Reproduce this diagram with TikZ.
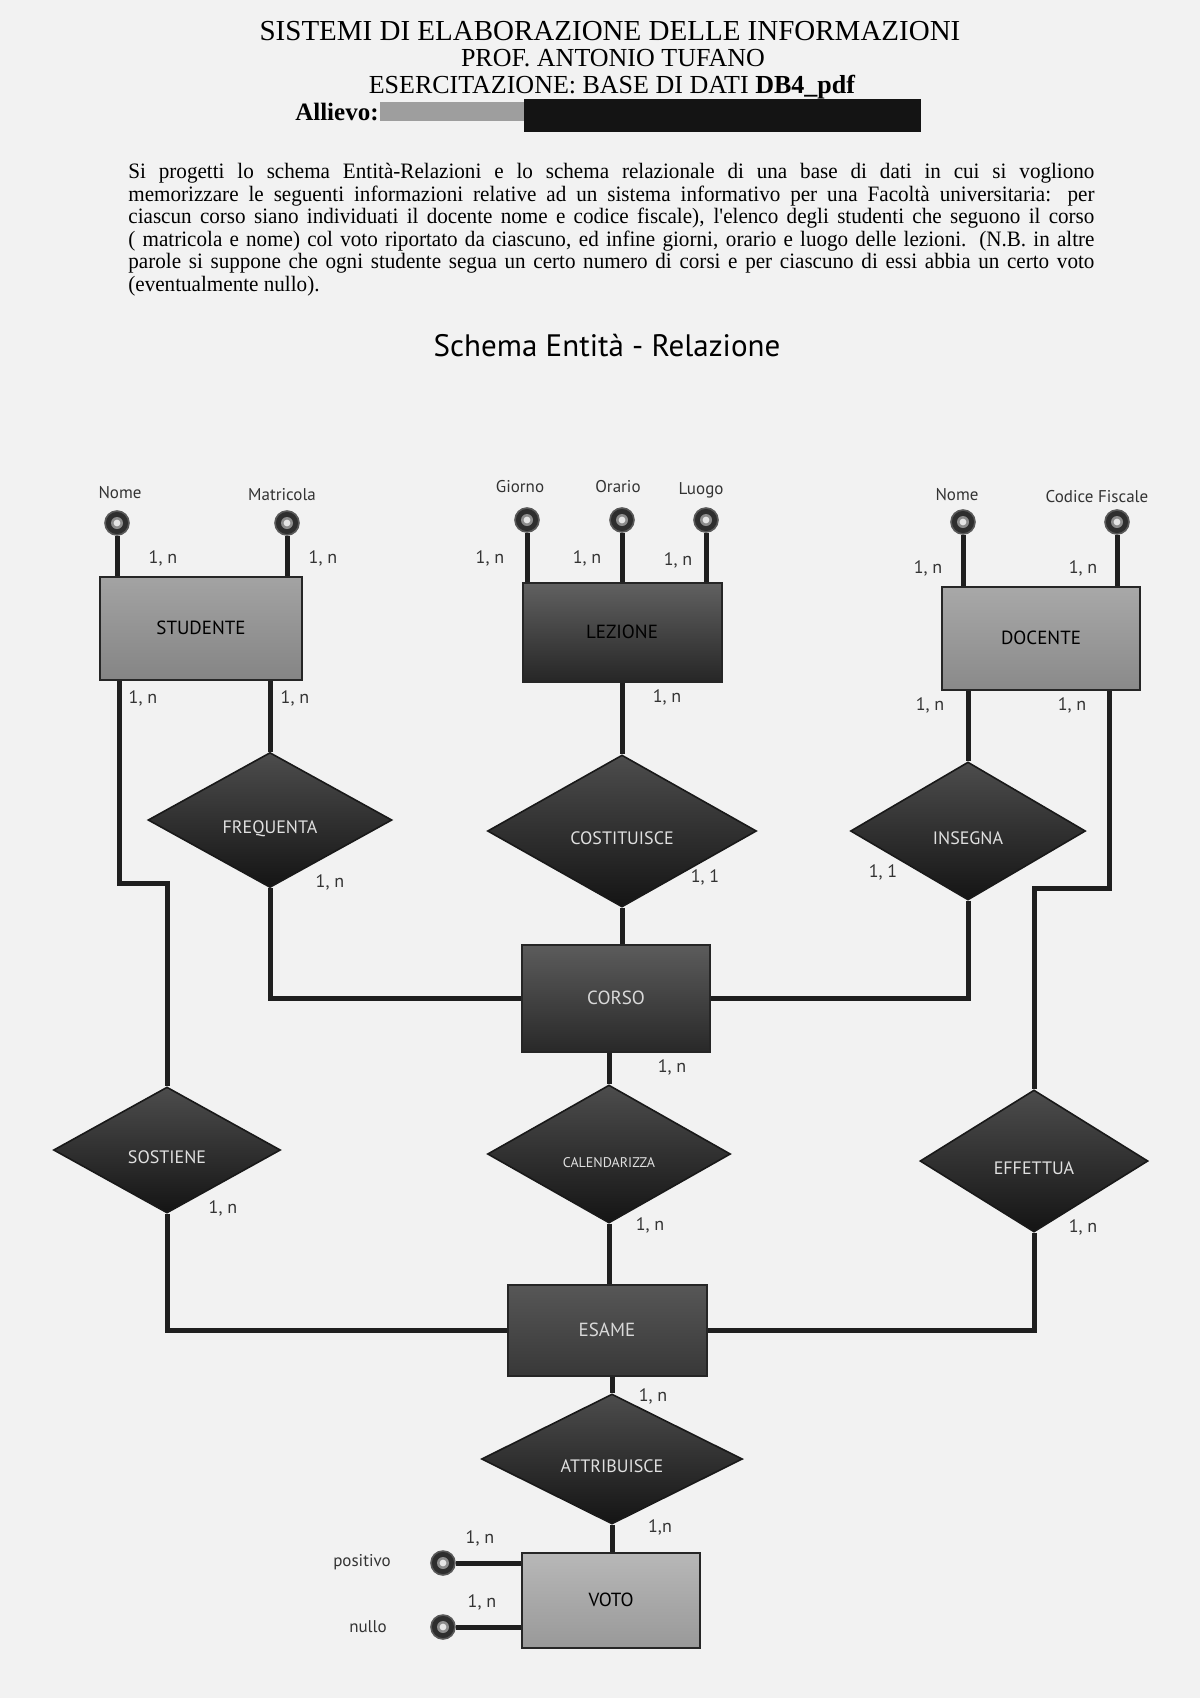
\documentclass[tikz,border=0pt]{standalone}
\usepackage{fontspec}
\setmainfont{Liberation Serif}
\newfontfamily\headfont{Liberation Serif}
\newfontfamily\bodyfont{Liberation Serif}[FakeStretch=0.96]
\newfontfamily\erfont{PT Sans}
\usetikzlibrary{shapes.geometric}

\begin{document}
\begin{tikzpicture}[x=0.5pt, y=-0.5pt,
    entity/.style={rectangle, draw=black!85, line width=1pt, inner sep=0pt, font=\erfont\fontsize{9.5}{11}\selectfont},
    relation/.style={diamond, aspect=2, draw=black!90, line width=0.8pt, top color=black!70, bottom color=black!92, text=white!88!black, inner sep=0pt, text height=13pt, text depth=0pt, font=\erfont\fontsize{9}{11}\selectfont},
    attr/.style={circle, fill=black!82, draw=black!65, line width=0.8pt, minimum size=12pt, inner sep=0pt,
        path picture={\fill[black!45] (path picture bounding box.center) circle (3pt);
                      \fill[white!90!black] (path picture bounding box.center) circle (1.7pt);}},
    attrname/.style={text=black!80, font=\erfont\fontsize{8.5}{10}\selectfont},
    card/.style={text=black!80, font=\erfont\fontsize{9}{10}\selectfont},
    link/.style={line width=2.5pt, draw=black!88},
    testa/.style={anchor=base, inner sep=0pt, font=\headfont\fontsize{13}{15}\selectfont},
    riga/.style={anchor=base west, inner sep=0pt, font=\bodyfont\fontsize{11}{13}\selectfont}]

    % Page
    \fill[black!5] (0,0) rectangle (1200,1698);
    \useasboundingbox (0,0) rectangle (1200,1698);

    % Header
    \node[testa, font=\headfont\fontsize{14.5}{16}\selectfont] (corso1) at (610,40) {SISTEMI DI ELABORAZIONE DELLE INFORMAZIONI};
    \node[testa] (prof) at (613,66) {PROF. ANTONIO TUFANO};
    \node[testa] (eserc) at (612,93) {ESERCITAZIONE: BASE DI DATI \textbf{DB4\_pdf}};
    \node[testa, anchor=base east, font=\headfont\bfseries\fontsize{12.5}{15}\selectfont] (allievo) at (379,120) {Allievo:};
    \fill[black!38] (380,102) rectangle (524,121);
    \fill[black!92] (524,99) rectangle (921,132);

    % Text
    \node[riga] (r1) at (128,178.5) {\makebox[483pt][s]{Si progetti lo schema Entità-Relazioni e lo schema relazionale di una base di dati in cui si vogliono}};
    \node[riga] (r2) at (128,201) {\makebox[483pt][s]{memorizzare le seguenti informazioni relative ad un sistema informativo per una Facoltà universitaria: per}};
    \node[riga] (r3) at (128,223.5) {\makebox[483pt][s]{ciascun corso siano individuati il docente nome e codice fiscale), l'elenco degli studenti che seguono il corso}};
    \node[riga] (r4) at (128,246) {\makebox[483pt][s]{( matricola e nome) col voto riportato da ciascuno, ed infine giorni, orario e luogo delle lezioni. (N.B. in altre}};
    \node[riga] (r5) at (128,268.5) {\makebox[483pt][s]{parole si suppone che ogni studente segua un certo numero di corsi e per ciascuno di essi abbia un certo voto}};
    \node[riga] (r6) at (128,291) {(eventualmente nullo).};

    \node[font=\erfont\fontsize{15.5}{18}\selectfont] (schema) at (607,346) {Schema Entità - Relazione};

    % Entities
    \node[entity, top color=black!36, bottom color=black!48, minimum width=101pt, minimum height=51.5pt] (studente) at (201,628) {STUDENTE};
    \node[entity, top color=black!62, bottom color=black!85, minimum width=99.5pt, minimum height=49.5pt] (lezione) at (622,632) {LEZIONE};
    \node[entity, top color=black!34, bottom color=black!46, minimum width=99pt, minimum height=51.5pt] (docente) at (1041,638) {DOCENTE};
    \node[entity, top color=black!64, bottom color=black!84, text=white!85!black, minimum width=94pt, minimum height=53.5pt] (corso) at (616,998) {CORSO};
    \node[entity, top color=black!66, bottom color=black!78, text=white!85!black, minimum width=99.5pt, minimum height=45.5pt] (esame) at (607,1330) {ESAME};
    \node[entity, top color=black!28, bottom color=black!40, minimum width=89pt, minimum height=47.5pt] (voto) at (611,1600) {VOTO};

    % Relations
    \node[relation, minimum width=122pt, minimum height=67.5pt] (frequenta) at (270,820) {FREQUENTA};
    \node[relation, minimum width=134.5pt, minimum height=76pt] (costituisce) at (622,831) {COSTITUISCE};
    \node[relation, minimum width=117.5pt, minimum height=69pt] (insegna) at (968,831) {INSEGNA};
    \node[relation, minimum width=113.5pt, minimum height=63pt] (sostiene) at (167,1150) {SOSTIENE};
    \node[relation, minimum width=121.5pt, minimum height=69pt, font=\erfont\fontsize{7}{8}\selectfont] (calendarizza) at (609,1154) {CALENDARIZZA};
    \node[relation, minimum width=114pt, minimum height=71pt] (effettua) at (1034,1161) {EFFETTUA};
    \node[relation, minimum width=130.5pt, minimum height=65pt] (attribuisce) at (612,1459) {ATTRIBUISCE};

    % Attributes
    \node[attr] (nomeS) at (117,523) {};
    \node[attr] (matricola) at (287,523) {};
    \node[attr] (giorno) at (527,520) {};
    \node[attr] (orario) at (622,520) {};
    \node[attr] (luogo) at (706,520) {};
    \node[attr] (nomeD) at (963,522) {};
    \node[attr] (codfisc) at (1117,522) {};
    \node[attr] (positivo) at (443,1563) {};
    \node[attr] (nullo) at (443,1627) {};

    \node[attrname] (lnomeS) at (120,493) {Nome};
    \node[attrname] (lmatricola) at (282,495) {Matricola};
    \node[attrname] (lgiorno) at (520,487) {Giorno};
    \node[attrname] (lorario) at (618,487) {Orario};
    \node[attrname] (lluogo) at (701,490) {Luogo};
    \node[attrname] (lnomeD) at (957,495) {Nome};
    \node[attrname] (lcodfisc) at (1097,497) {Codice Fiscale};
    \node[attrname] (lpositivo) at (362,1562) {positivo};
    \node[attrname] (lnullo) at (368,1627) {nullo};

    % Cardinalities
    \node[card] (c1) at (163,558) {1, n};
    \node[card] (c2) at (323,558) {1, n};
    \node[card] (c3) at (143,698) {1, n};
    \node[card] (c4) at (295,698) {1, n};
    \node[card] (c5) at (490,558) {1, n};
    \node[card] (c6) at (587,558) {1, n};
    \node[card] (c7) at (678,560) {1, n};
    \node[card] (c8) at (667,697) {1, n};
    \node[card] (c9) at (928,568) {1, n};
    \node[card] (c10) at (1083,568) {1, n};
    \node[card] (c11) at (930,705) {1, n};
    \node[card] (c12) at (1072,705) {1, n};
    \node[card] (c13) at (330,882) {1, n};
    \node[card] (c14) at (705,877) {1, 1};
    \node[card] (c15) at (883,872) {1, 1};
    \node[card] (c16) at (672,1067) {1, n};
    \node[card] (c17) at (223,1208) {1, n};
    \node[card] (c18) at (650,1225) {1, n};
    \node[card] (c19) at (1083,1227) {1, n};
    \node[card] (c20) at (653,1396) {1, n};
    \node[card] (c21) at (660,1527) {1,n};
    \node[card] (c22) at (480,1538) {1, n};
    \node[card] (c23) at (482,1602) {1, n};

    % Edges
    \draw[link] (nomeS) -- (nomeS |- studente.north);
    \draw[link] (matricola) -- (matricola |- studente.north);
    \draw[link] (giorno) -- (giorno |- lezione.north);
    \draw[link] (orario) -- (orario |- lezione.north);
    \draw[link] (luogo) -- (luogo |- lezione.north);
    \draw[link] (nomeD) -- (nomeD |- docente.north);
    \draw[link] (codfisc) -- (codfisc |- docente.north);
    \draw[link] (positivo) -- (positivo -| voto.west);
    \draw[link] (nullo) -- (nullo -| voto.west);

    \draw[link] ([xshift=10pt]studente.south west) |- (sostiene.north |- 0,883) -- (sostiene.north);
    \draw[link] (frequenta.north |- studente.south) -- (frequenta.north);
    \draw[link] (frequenta.south) |- (corso.west);
    \draw[link] (costituisce.north |- lezione.south) -- (costituisce.north);
    \draw[link] (costituisce.south) -- (costituisce.south |- corso.north);
    \draw[link] (insegna.north |- docente.south) -- (insegna.north);
    \draw[link] (insegna.south) |- (corso.east);
    \draw[link] ([xshift=-16pt]docente.south east) |- (effettua.north |- 0,888) -- (effettua.north);
    \draw[link] (calendarizza.north |- corso.south) -- (calendarizza.north);
    \draw[link] (calendarizza.south) -- (calendarizza.south |- esame.north);
    \draw[link] (sostiene.south) |- (esame.west);
    \draw[link] (effettua.south) |- (esame.east);
    \draw[link] (attribuisce.north |- esame.south) -- (attribuisce.north);
    \draw[link] (attribuisce.south) -- (attribuisce.south |- voto.north);

\end{tikzpicture}
\end{document}
